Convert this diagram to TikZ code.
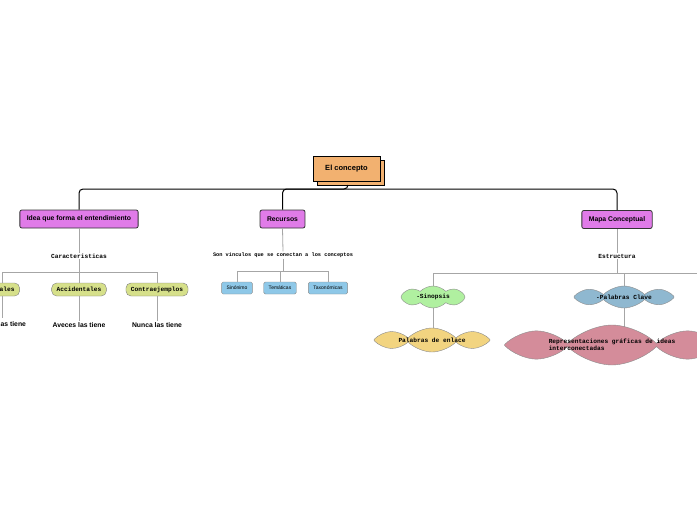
\documentclass[tikz,border=0pt]{standalone}
\usepackage{fontspec}
\setmainfont{Liberation Sans}
\newfontfamily\mono{Liberation Mono}
\usetikzlibrary{shapes.symbols}
\definecolor{rootc}{HTML}{F2B170}
\definecolor{violetc}{HTML}{E07BE8}
\definecolor{olivec}{HTML}{D6E08A}
\definecolor{bluec}{HTML}{8EC8E8}
\definecolor{greenc}{HTML}{B0F0A0}
\definecolor{cbluec}{HTML}{8FB8D0}
\definecolor{yelc}{HTML}{F2D480}
\definecolor{pinkc}{HTML}{D48C9A}
\begin{document}
\begin{tikzpicture}[x=1pt,y=-1pt,
  topbox/.style={draw=black!80,line width=0.8pt,rounded corners=2pt,fill=violetc,font=\bfseries\fontsize{6.8}{8}\selectfont,minimum height=18pt,inner xsep=7pt},
  leafbox/.style={draw=black!50,rounded corners=5pt,fill=olivec,font=\mono\bfseries\fontsize{6.2}{7}\selectfont,minimum height=13pt,inner xsep=5pt},
  bluebox/.style={draw=black!45,rounded corners=1.5pt,fill=bluec,font=\fontsize{5}{6}\selectfont,minimum height=12pt,inner xsep=5pt},
  lab/.style={font=\mono\bfseries\fontsize{6.2}{7}\selectfont,inner sep=1pt},
  plain/.style={font=\bfseries\fontsize{6.8}{8}\selectfont,inner sep=1pt},
  cl/.style={cloud,cloud puffs=8,cloud puff arc=90,cloud ignores aspect,draw=black!45,font=\mono\bfseries\fontsize{6.2}{7}\selectfont,inner sep=0pt},
  ln/.style={draw=black!35,line width=0.8pt},
  dk/.style={draw=black,line width=1pt,rounded corners=4pt}]
\useasboundingbox (0,0) rectangle (697,520);
\clip (0,0) rectangle (697,520);
\fill[white] (0,0) rectangle (697,520);
% root
\fill[rootc,draw=black,line width=0.8pt] (317,160) rectangle (384,185);
\node[draw=black,line width=0.8pt,fill=rootc,minimum width=67pt,minimum height=25pt,font=\bfseries\fontsize{7.5}{9}\selectfont] (root) at (346.5,168.5) {El concepto};
\coordinate (rj) at (348,189);
\node[topbox] (idea) at (79,219) {Idea que forma el entendimiento};
\node[topbox] (rec) at (282.5,219) {Recursos};
\node[topbox] (mapa) at (617,219.5) {Mapa Conceptual};
\draw[dk] (348,185) -- (rj) -| (idea.north);
\draw[dk] (rj) -| (rec.north);
\draw[dk] (rj) -| (mapa.north);
% Idea branch
\node[lab] (car) at (79,256) {Caracteristicas};
\draw[ln] (idea.south) -- (car.north);
\node[leafbox] (ese) at (-4,289.5) {Esenciales};
\node[leafbox] (acc) at (79,289.5) {Accidentales};
\node[leafbox] (con) at (157,289.5) {Contraejemplos};
\draw[ln] (car.south) -- (79,272);
\draw[ln] (2,283) |- (157,272) -- (con.north);
\draw[ln] (79,272) -- (acc.north);
\node[plain] (t1) at (-2,325) {Siempre las tiene};
\node[plain] (t2) at (79,325) {Aveces las tiene};
\node[plain] (t3) at (157,325) {Nunca las tiene};
\draw[ln] (2,296) -- (2,318);
\draw[ln] (acc.south) -- (t2.north);
\draw[ln] (con.south) -- (t3.north);
% Recursos
\node[lab,font=\mono\bfseries\fontsize{5.3}{6}\selectfont] (son) at (283,255) {Son vinculos que se conectan a los conceptos};
\draw[ln] (rec.south) -- (son.north);
\node[bluebox] (s1) at (237,288) {Sinónimo};
\node[bluebox] (s2) at (280,288) {Temáticas};
\node[bluebox] (s3) at (328,288) {Taxonómicas};
\draw[ln] (son.south) -- (283,271);
\draw[ln] (s1.north) |- (s3.north |- 0,271) -- (s3.north);
\draw[ln] (280,271) -- (s2.north);
% Mapa
\node[lab] (est) at (617,256) {Estructura};
\draw[ln] (mapa.south) -- (est.north);
\draw[ln] (est.south) -- (617,273);
\draw[ln] (433,290) |- (700,273);
\draw[ln] (624,273) -- (624,290);
\draw[ln] (433,300) -- (433,332);
\draw[ln] (624,300) -- (624,332);
\node[cl,fill=greenc,minimum width=64pt,minimum height=22pt] (sin) at (433,297) {-Sinopsis};
\node[cl,fill=cbluec,minimum width=100pt,minimum height=22pt] (pc) at (624,297) {-Palabras Clave};
\node[cl,fill=yelc,minimum width=116pt,minimum height=24pt] (pe) at (432,340) {Palabras de enlace};
\node[cl,fill=pinkc,minimum width=215pt,minimum height=40pt] (rep) at (612,345) {};
\node[lab,align=left] at (rep.center) {Representaciones gráficas de ideas\\interconectadas};
\end{tikzpicture}
\end{document}
